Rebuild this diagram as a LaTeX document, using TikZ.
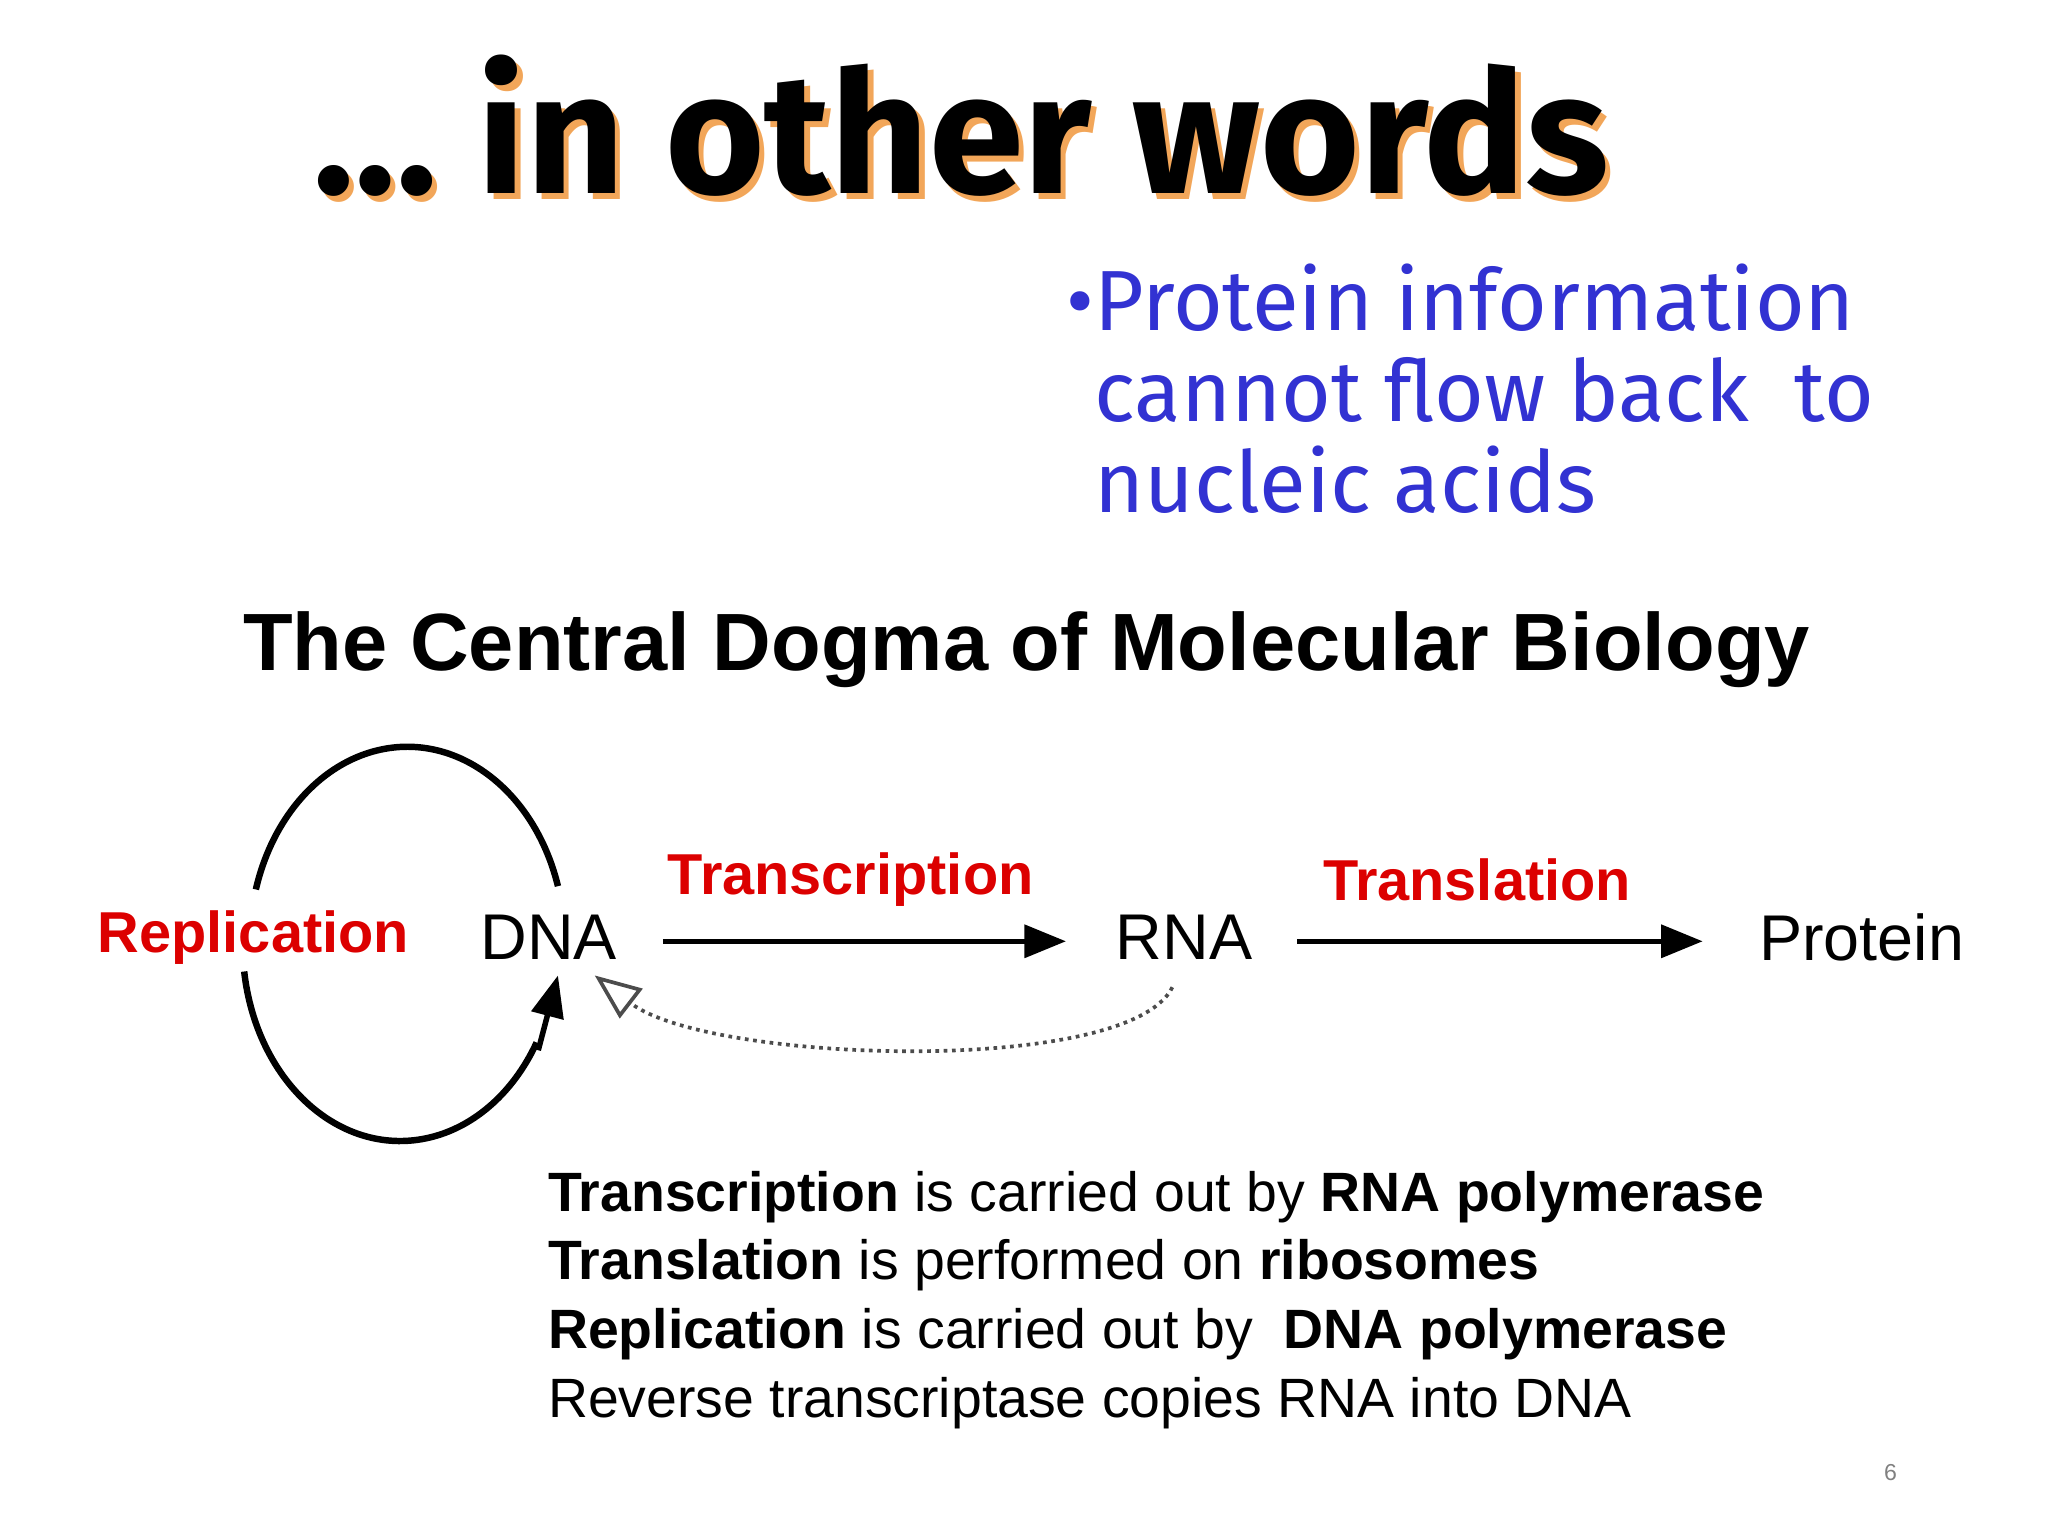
\documentclass[tikz,border=0pt]{standalone}
\usepackage{fontspec}
\setmainfont{Liberation Sans}
\newfontfamily\comic{Fira Sans}
\usetikzlibrary{arrows.meta,decorations.pathmorphing}
\definecolor{bl}{RGB}{50,50,210}
\definecolor{rd}{RGB}{220,0,0}
\tikzset{lbl/.style={font=\fontsize{12.5}{12.5}\selectfont\bfseries},
 red/.style={lbl,text=rd},
 blk/.style={font=\fontsize{14}{14}\selectfont},
 arr/.style={line width=1.2pt,-{Triangle[length=9pt,width=7pt]}},
 body/.style={anchor=west,font=\fontsize{12}{12}\selectfont}}
\begin{document}
\begin{tikzpicture}[x=0.01cm,y=-0.01cm]
\useasboundingbox (0,0) rectangle (1560,1170);
\node[text=orange!70!brown,opacity=0.7,font=\comic\bfseries\fontsize{37}{37}\selectfont] at (736,100) {… in other words};
\node (title) [font=\comic\bfseries\fontsize{37}{37}\selectfont] at (732,96) {… in other words};
\node (bul) [anchor=north west,text=bl,align=left,inner sep=0pt,font=\comic\fontsize{18.5}{19.8}\selectfont] at (812,200) {•Protein information\\\phantom{•}cannot flow back\ \ to\\\phantom{•}nucleic acids};
\node (cd) [font=\fontsize{17.6}{17.6}\selectfont\bfseries] at (782,495) {The Central Dogma of Molecular Biology};
\node (rep) [red] at (193,714) {Replication};
\node (dna) [blk] at (418,714) {DNA};
\node (rna) [blk] at (902,714) {RNA};
\node (pro) [blk] at (1418,714) {Protein};
\node (tc) [red] at (648,670) {Transcription};
\node (tl) [red] at (1125,670) {Translation};
\coordinate (a1) at (505,717); \coordinate (a2) at (812,717);
\coordinate (b1) at (988,717); \coordinate (b2) at (1297,717);
\draw[arr] (a1) -- (a2);
\draw[arr] (b1) -- (b2);
\draw[line width=1.4pt] (425,675) arc[start angle=-17,end angle=-164,x radius=120,y radius=150];
\draw[line width=1.4pt] (186,740) arc[start angle=172,end angle=30,x radius=120,y radius=150];
\coordinate (lc) at (410,800);
\coordinate (lt) at (425,743);
\draw[arr] (lc) -- (lt);
\coordinate (r1) at (893,752); \coordinate (r2) at (453,743);
\draw[line width=0.8pt,gray!60!black,densely dotted,-{Triangle[length=10pt,width=8pt,open]}] (r1) .. controls (860,820) and (540,810) .. (r2);
\node (l1) [body] at (405,912) {\textbf{Transcription} is carried out by \textbf{RNA polymerase}};
\node (l2) [body] at (405,964) {\textbf{Translation} is performed on \textbf{ribosomes}};
\node (l3) [body] at (405,1016) {\textbf{Replication} is carried out by\ \ \textbf{DNA polymerase}};
\node (l4) [body] at (405,1069) {Reverse transcriptase copies RNA into DNA};
\node (pg) [text=gray,font=\fontsize{5}{5}\selectfont] at (1440,1122) {6};
\end{tikzpicture}
\end{document}
